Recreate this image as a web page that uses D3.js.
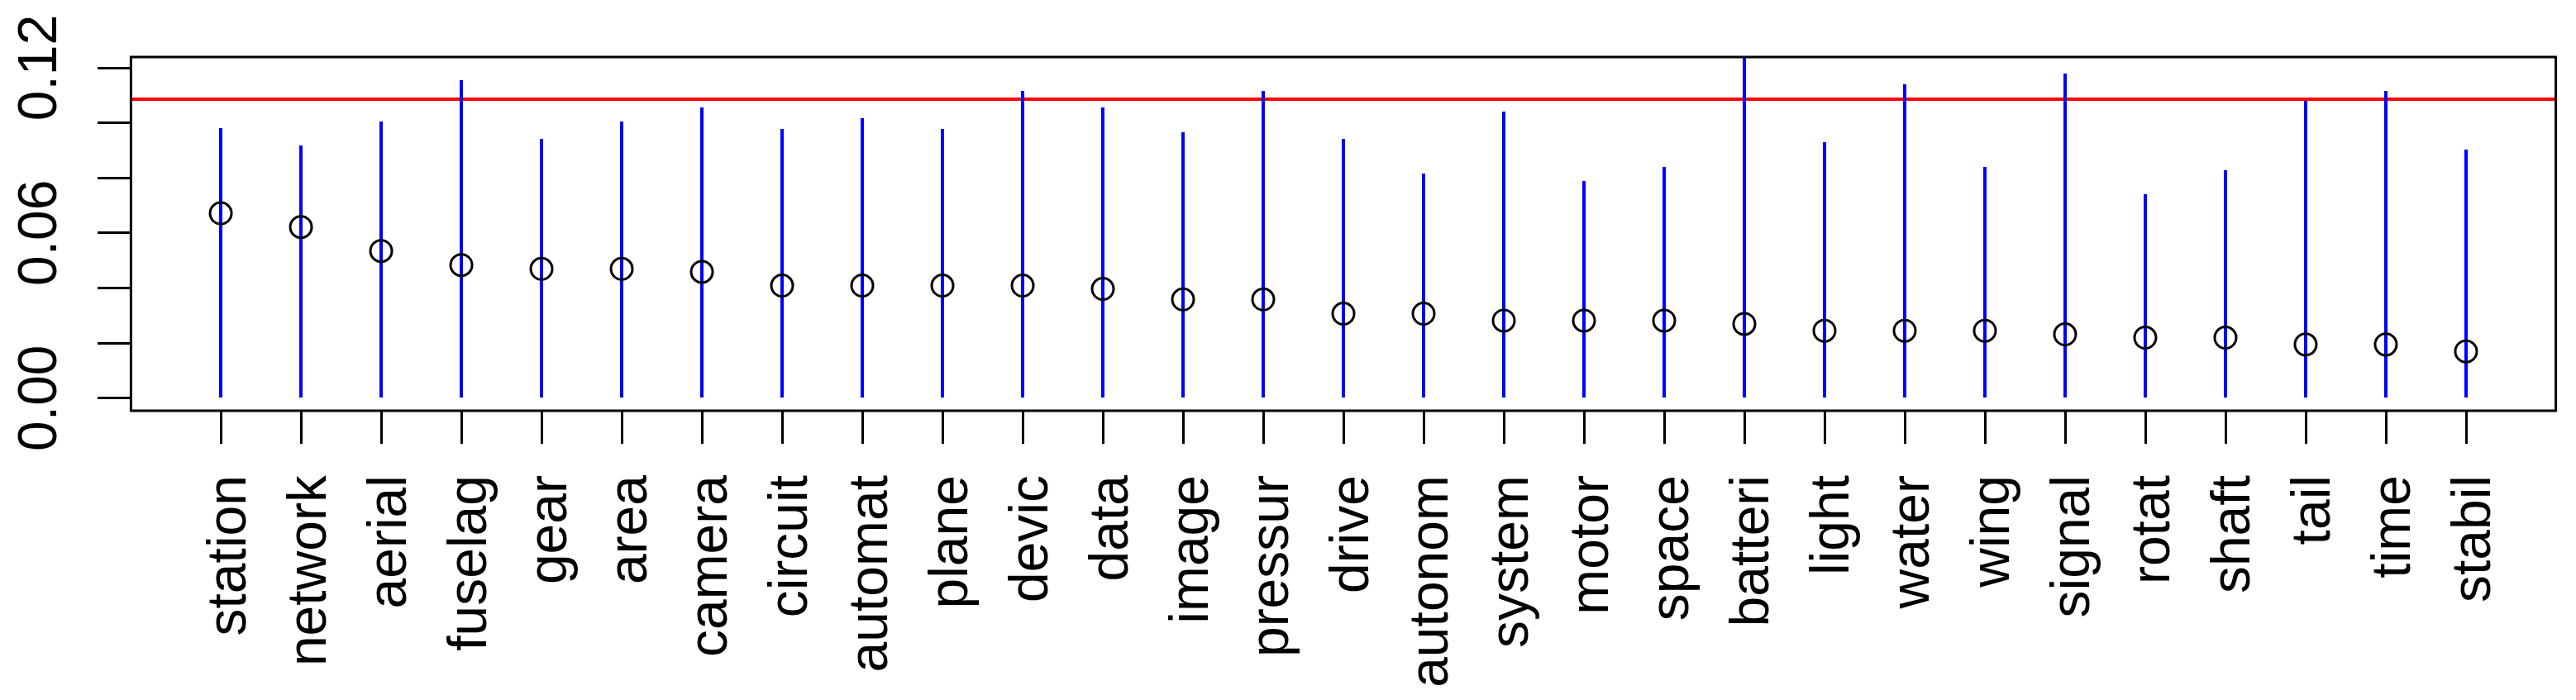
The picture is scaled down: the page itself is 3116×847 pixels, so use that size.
<!DOCTYPE html>
<html>
<head>
<meta charset="utf-8">
<script src="https://cdnjs.cloudflare.com/ajax/libs/d3/7.8.5/d3.min.js"></script>
<style>
  body { margin: 0; background: #fff; }
  text { font-family: "Liberation Sans", Arial, sans-serif; }
  line { shape-rendering: crispEdges; }
</style>
</head>
<body>
<script>
// terms, point estimate and upper end of the interval
var terms = ['station', 'network', 'aerial', 'fuselag', 'gear', 'area', 'camera',
  'circuit', 'automat', 'plane', 'devic', 'data', 'image', 'pressur', 'drive',
  'autonom', 'system', 'motor', 'space', 'batteri', 'light', 'water', 'wing',
  'signal', 'rotat', 'shaft', 'tail', 'time', 'stabil'];

var means = [0.0670, 0.0620, 0.0533, 0.0482, 0.0468, 0.0468, 0.0457, 0.0407,
  0.0407, 0.0407, 0.0407, 0.0395, 0.0357, 0.0357, 0.0305, 0.0305, 0.0280,
  0.0280, 0.0280, 0.0268, 0.0243, 0.0243, 0.0243, 0.0230, 0.0218, 0.0218,
  0.0193, 0.0193, 0.0168];

var uppers = [0.0978, 0.0915, 0.1004, 0.1154, 0.0940, 0.1003, 0.1053, 0.0977,
  0.1015, 0.0977, 0.1115, 0.1053, 0.0965, 0.1115, 0.0940, 0.0813, 0.1040,
  0.0788, 0.0838, 0.1262, 0.0927, 0.1140, 0.0838, 0.1178, 0.0738, 0.0827,
  0.1079, 0.1115, 0.0902];

var yTicks = [0, 0.02, 0.04, 0.06, 0.08, 0.10, 0.12];
var yLabelled = [0, 0.06, 0.12];
var threshold = 0.1085;

var W = 3116, H = 847;
var box = { left: 158.4, right: 3091.6, top: 69, bottom: 497 };

var svg = d3.select('body').append('svg')
  .attr('width', W)
  .attr('height', H);

var x = d3.scalePoint()
  .domain(terms)
  .range([box.left, box.right])
  .padding(1.12);

// R style ylim: range of data stretched by 4% each side
var yMax = 0.1190;
var y = d3.scaleLinear()
  .domain([-0.04 * yMax, yMax * 1.04])
  .range([box.bottom, box.top]);

svg.append('clipPath').attr('id', 'plotclip')
  .append('rect')
  .attr('x', box.left)
  .attr('y', box.top)
  .attr('width', box.right - box.left)
  .attr('height', box.bottom - box.top);

var plot = svg.append('g').attr('clip-path', 'url(#plotclip)');

// threshold
plot.append('line')
  .attr('x1', box.left)
  .attr('x2', box.right)
  .attr('y1', y(threshold))
  .attr('y2', y(threshold))
  .style('stroke', '#ff0000')
  .style('stroke-width', 4);

// intervals from zero to upper
plot.selectAll('line.bar')
  .data(terms)
  .enter()
  .append('line')
  .attr('class', 'bar')
  .attr('x1', function (d) { return x(d); })
  .attr('x2', function (d) { return x(d); })
  .attr('y1', y(0))
  .attr('y2', function (d, i) { return y(uppers[i]); })
  .style('stroke', '#0000ff')
  .style('stroke-width', 4);

// points
plot.selectAll('circle')
  .data(terms)
  .enter()
  .append('circle')
  .attr('cx', function (d) { return x(d); })
  .attr('cy', function (d, i) { return y(means[i]); })
  .attr('r', 13)
  .style('fill', 'none')
  .style('stroke', '#000')
  .style('stroke-width', 3);

// frame
svg.append('rect')
  .attr('x', box.left)
  .attr('y', box.top)
  .attr('width', box.right - box.left)
  .attr('height', box.bottom - box.top)
  .style('fill', 'none')
  .style('stroke', '#000')
  .style('stroke-width', 3);

// y axis
var yAxis = svg.append('g')
  .attr('transform', 'translate(' + box.left + ',0)')
  .call(d3.axisLeft(y)
    .tickValues(yTicks)
    .tickSize(40)
    .tickFormat(function (d) {
      return yLabelled.some(function (v) { return Math.abs(v - d) < 1e-9; }) ? d3.format('.2f')(d) : '';
    }));
yAxis.select('.domain').remove();
yAxis.selectAll('line').style('stroke-width', 3);
yAxis.selectAll('text')
  .attr('x', null)
  .attr('dy', null)
  .attr('transform', 'translate(' + (68 - box.left) + ',0) rotate(-90)')
  .attr('text-anchor', 'middle')
  .style('font-size', '66px')
  .style('font-family', '"Liberation Sans", Arial, sans-serif')
  .style('fill', '#000');

// x axis
var xAxis = svg.append('g')
  .attr('transform', 'translate(0,' + box.bottom + ')')
  .call(d3.axisBottom(x).tickSize(40));
xAxis.select('.domain').remove();
xAxis.selectAll('line').style('stroke-width', 3);
xAxis.selectAll('text')
  .attr('y', null)
  .attr('dy', null)
  .attr('transform', 'translate(29,78) rotate(-90)')
  .attr('text-anchor', 'end')
  .style('font-size', '66px')
  .style('font-family', '"Liberation Sans", Arial, sans-serif')
  .style('fill', '#000');
</script>
</body>
</html>
